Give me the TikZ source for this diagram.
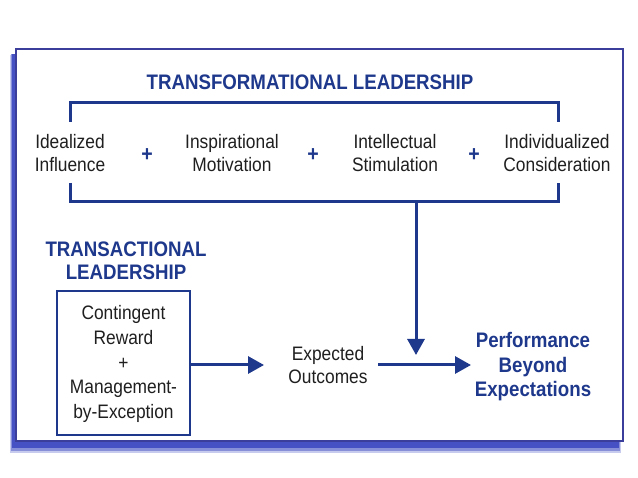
\documentclass[tikz,border=0pt]{standalone}
\usepackage{fontspec}
\setmainfont{Liberation Sans}[FakeStretch=0.89]
\usetikzlibrary{arrows.meta}
\definecolor{dblue}{RGB}{30,56,140}
\definecolor{frameblue}{RGB}{60,62,155}
\definecolor{shadowblue}{RGB}{70,82,195}
\tikzset{
  txt/.style={align=center, inner sep=0pt, font=\fontsize{19.5}{23.5}\selectfont, text=black!88},
  boldtxt/.style={align=center, inner sep=0pt, font=\fontsize{21}{23}\selectfont\bfseries, text=dblue},
  plus/.style={inner sep=0pt, font=\fontsize{22}{22}\selectfont\bfseries, text=dblue},
  bracket/.style={draw=dblue, line width=3pt},
  flow/.style={draw=dblue, line width=3pt, -{Triangle[length=16pt,width=17pt]}},
}
\begin{document}
\begin{tikzpicture}[x=1pt,y=-1pt]
\useasboundingbox (0,0) rectangle (638,478);
\fill[white] (0,0) rectangle (638,478);
% shadow
\fill[shadowblue!30] (10,55) rectangle (621,453);
\fill[shadowblue!65] (11,54) rectangle (620,451);
\fill[shadowblue] (12,54) rectangle (619,448);
% frame
\draw[frameblue, line width=2pt, fill=white] (16,49) rectangle (623,441);

\node[boldtxt] (title) at (310,82) {TRANSFORMATIONAL LEADERSHIP};

\node[txt] (ideal) at (70,153) {Idealized\\Influence};
\node[txt] (insp) at (232,153) {Inspirational\\Motivation};
\node[txt] (intel) at (395,153) {Intellectual\\Stimulation};
\node[txt] (indiv) at (557,153) {Individualized\\Consideration};
\node[plus] (p1) at (147,155) {+};
\node[plus] (p2) at (313,155) {+};
\node[plus] (p3) at (474,155) {+};

\coordinate (tl) at (70,122);
\coordinate (tlc) at (70,103);
\coordinate (trc) at (558,103);
\coordinate (tr) at (558,122);
\coordinate (bl) at (70,183);
\coordinate (blc) at (70,202);
\coordinate (brc) at (558,202);
\coordinate (br) at (558,183);
\coordinate (drop) at (416,202);
\coordinate (droptip) at (416,355);
\draw[bracket] (tl) -- (tlc) -- (trc) -- (tr);
\draw[bracket] (bl) -- (blc) -- (brc) -- (br);

\node[boldtxt] (trans) at (126,261) {TRANSACTIONAL\\LEADERSHIP};

\node[draw=dblue, line width=2.5pt, minimum width=133pt, minimum height=144pt, inner sep=0pt] (box) at (123.5,363) {};
\node[txt, font=\fontsize{19.5}{24.75}\selectfont] (boxtxt) at (123.5,364) {Contingent\\Reward\\+\\Management-\\by-Exception};

\node[txt] (exp) at (328,365) {Expected\\Outcomes};
\node[boldtxt, font=\fontsize{21}{24.5}\selectfont\bfseries] (perf) at (533,367) {Performance\\Beyond\\Expectations};

\coordinate (a1) at (264,365);
\coordinate (a2s) at (378,365);
\coordinate (a2e) at (471,365);
\draw[flow] (box.east |- a1) -- (a1);
\draw[flow] (a2s) -- (a2e);
\draw[flow] (drop) -- (droptip);
\end{tikzpicture}
\end{document}
